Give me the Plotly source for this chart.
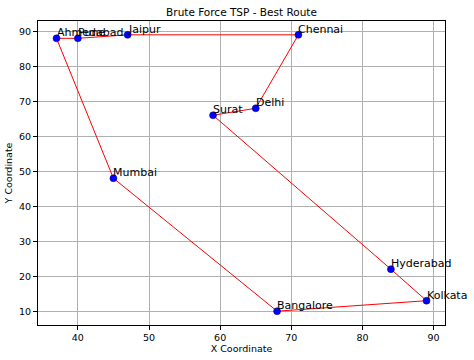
import plotly.graph_objects as go

cities = ["Ahmedabad", "Pune", "Jaipur", "Chennai", "Delhi", "Surat",
          "Hyderabad", "Kolkata", "Bangalore", "Mumbai"]
xs = [37, 40, 47, 71, 65, 59, 84, 89, 68, 45]
ys = [88, 88, 89, 89, 68, 66, 22, 13, 10, 48]
route = [0, 1, 2, 3, 4, 5, 6, 7, 8, 9, 0]

rx = [xs[i] for i in route]
ry = [ys[i] for i in route]

fig = go.Figure()
fig.add_trace(go.Scatter(x=rx, y=ry, mode="lines",
                         line=dict(color="red", width=1), hoverinfo="skip"))
fig.add_trace(go.Scatter(x=xs, y=ys, mode="markers",
                         marker=dict(color="blue", size=7,
                                     line=dict(width=0.5, color="darkblue"))))

for name, x, y in zip(cities, xs, ys):
    fig.add_annotation(x=x, y=y, text=name, showarrow=False,
                       xanchor="left", yanchor="bottom", yshift=-3, xshift=-2,
                       font=dict(family="DejaVu Sans", size=11, color="black"))

axis_common = dict(showgrid=True, gridcolor="#b0b0b0", gridwidth=0.8,
                   showline=True, linecolor="black", linewidth=1, mirror=True,
                   ticks="outside", ticklen=4, tickcolor="black", zeroline=False,
                   automargin=False,
                   tickfont=dict(family="DejaVu Sans", size=9.5, color="black"))

fig.update_layout(
    width=474, height=360,
    margin=dict(l=38, r=29, t=21, b=35),
    paper_bgcolor="white", plot_bgcolor="white",
    showlegend=False,
    title=dict(text="Brute Force TSP - Best Route", x=0.5, xanchor="center",
               xref="paper", y=0.976, yanchor="top",
               font=dict(family="DejaVu Sans", size=10.5, color="black")),
    xaxis=dict(range=[34.4, 91.6], tickvals=[40, 50, 60, 70, 80, 90],
               title=dict(text="X Coordinate", standoff=2,
                          font=dict(family="DejaVu Sans", size=9.5, color="black")),
               **axis_common),
    yaxis=dict(range=[6.05, 92.95], tickvals=[10, 20, 30, 40, 50, 60, 70, 80, 90],
               title=dict(text="Y Coordinate", standoff=4,
                          font=dict(family="DejaVu Sans", size=9.5, color="black")),
               **axis_common),
)

fig.write_html("out.html", config={"displayModeBar": False},
               post_script="document.body.style.margin='0';document.body.style.overflow='hidden';")
